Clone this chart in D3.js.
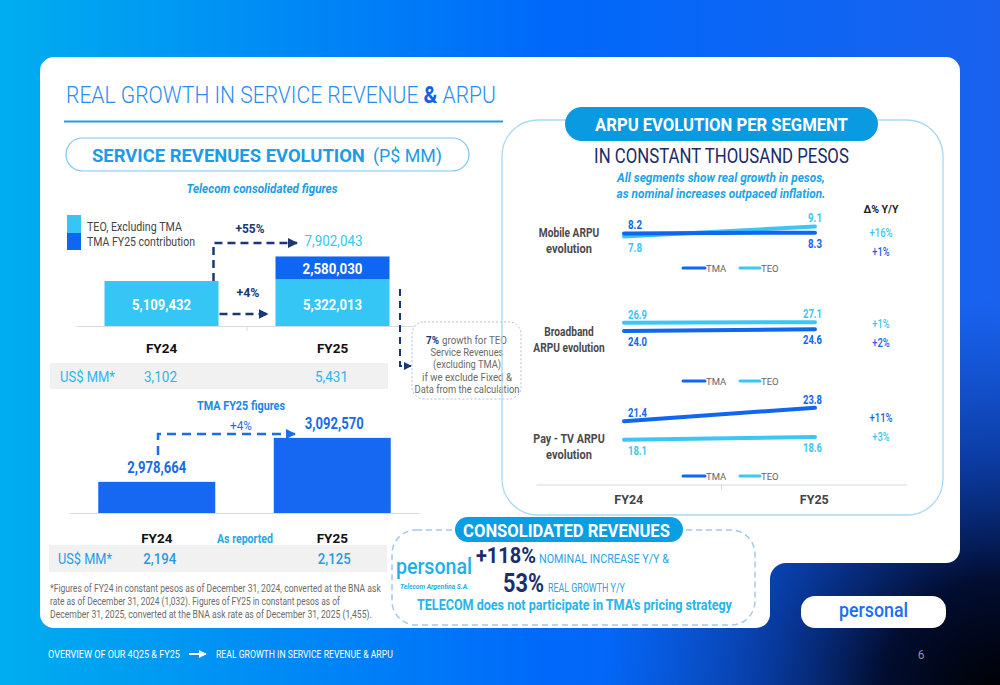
<!DOCTYPE html>
<html>
<head>
<meta charset="utf-8">
<script src="https://cdn.jsdelivr.net/npm/d3@7"></script>
<style>
  html, body { margin: 0; padding: 0; background: #0a6cf0; }
  svg { display: block; }
</style>
</head>
<body>
<svg id="chart" width="1000" height="685"></svg>
<script>
// ---- data ----
const years = ["FY24", "FY25"];
const teoExclTma = [5109432, 5322013];
const tmaContribution = [0, 2580030];
const consolidatedTotal = [5109432, 7902043];
const usdConsolidated = [3102, 5431];
const tmaRevenue = [2978664, 3092570];
const usdTma = [2194, 2125];
const consolidatedGrowth = "+55%";
const teoGrowth = "+4%";
const tmaGrowth = "+4%";

const arpuSegments = [["Mobile ARPU", "evolution"], ["Broadband", "ARPU evolution"], ["Pay - TV ARPU", "evolution"]];
const arpuTma = [[8.2, 8.3], [24.0, 24.6], [21.4, 23.8]];
const arpuTeo = [[7.8, 9.1], [26.9, 27.1], [18.1, 18.6]];
const yoyTma = ["+1%", "+2%", "+11%"];
const yoyTeo = ["+16%", "+1%", "+3%"];

const fmt = d3.format(",");
const LIGHT = "#35c6f6", DARK = "#0f66f2", NAVY = "#1b3876", SKY = "#1c9ce6";

const svg = d3.select("#chart");
const defs = svg.append("defs");

// background gradients
const lg = defs.append("linearGradient").attr("id", "bg").attr("x1", 0).attr("x2", 1).attr("y1", 0).attr("y2", 0);
lg.append("stop").attr("offset", 0).attr("stop-color", "#00aeef");
lg.append("stop").attr("offset", 0.55).attr("stop-color", "#0068fa");
lg.append("stop").attr("offset", 1).attr("stop-color", "#1a62ee");
const rg = defs.append("radialGradient").attr("id", "dark").attr("gradientUnits", "userSpaceOnUse")
  .attr("cx", 1000).attr("cy", 700).attr("r", 400);
rg.append("stop").attr("offset", 0).attr("stop-color", "#000").attr("stop-opacity", 1);
rg.append("stop").attr("offset", 0.3).attr("stop-color", "#010a2a").attr("stop-opacity", 0.97);
rg.append("stop").attr("offset", 0.6).attr("stop-color", "#062a80").attr("stop-opacity", 0.7);
rg.append("stop").attr("offset", 1).attr("stop-color", "#0a3aa0").attr("stop-opacity", 0);

function arrowMarker(id, color) {
  defs.append("marker").attr("id", id).attr("viewBox", "0 0 10 10").attr("refX", 9).attr("refY", 5)
    .attr("markerWidth", 4).attr("markerHeight", 4).attr("orient", "auto")
    .append("path").attr("d", "M0,0L10,5L0,10Z").attr("fill", color);
}
arrowMarker("arrNavy", NAVY);
arrowMarker("arrBlue", "#1a6ee8");
arrowMarker("arrWhite", "#fff");

svg.append("rect").attr("width", 1000).attr("height", 685).attr("fill", "url(#bg)");
svg.append("rect").attr("width", 1000).attr("height", 685).attr("fill", "url(#dark)");

// white card with cut-out bottom right
svg.append("path")
  .attr("d", "M54,57H946A14,14 0 0 1 960,71V549A14,14 0 0 1 946,563H786A16,16 0 0 0 770,579V614A14,14 0 0 1 756,628H54A14,14 0 0 1 40,614V71A14,14 0 0 1 54,57Z")
  .attr("fill", "#fff");

// text helper: natural glyphs, squeezed horizontally to the width seen in the slide
function label(parent, x, y, str, o = {}) {
  const t = parent.append("text").text(str)
    .attr("font-family", o.family || "Roboto, sans-serif")
    .attr("font-size", o.size || 12)
    .attr("font-weight", o.weight || 400)
    .attr("font-style", o.italic ? "italic" : null)
    .attr("fill", o.fill || "#333")
    .attr("text-anchor", o.anchor || "start");
  let s = 1;
  if (o.len) {
    const w = t.node().getComputedTextLength();
    if (w > 0) s = o.len / w;
  }
  t.attr("transform", `translate(${x},${y}) scale(${s},1)`);
  return t;
}

// ---- title ----
const title = svg.append("text").attr("font-family", "Roboto, sans-serif").attr("font-size", 24);
title.append("tspan").attr("font-weight", 300).attr("fill", "#2a8cf0").text("REAL GROWTH IN SERVICE REVENUE ");
title.append("tspan").attr("font-weight", 700).attr("fill", "#1560e6").text("&");
title.append("tspan").attr("font-weight", 300).attr("fill", "#2a8cf0").text(" ARPU");
title.attr("transform", `translate(66,103) scale(${430 / title.node().getComputedTextLength()},1)`);
svg.append("line").attr("x1", 64).attr("x2", 503).attr("y1", 121.5).attr("y2", 121.5)
  .attr("stroke", "#1f9de6").attr("stroke-width", 2);

svg.append("rect").attr("x", 66).attr("y", 138).attr("width", 403).attr("height", 33).attr("rx", 16.5)
  .attr("fill", "none").attr("stroke", "#7cc6f0").attr("stroke-width", 1.2);
label(svg, 92, 162, "SERVICE REVENUES EVOLUTION", {size: 19, weight: 700, fill: SKY, len: 273});
label(svg, 373, 162, "(P$ MM)", {size: 19, weight: 400, fill: SKY, len: 69});
label(svg, 262, 193, "Telecom consolidated figures", {size: 13, weight: 700, italic: true, fill: SKY, anchor: "middle", len: 151});

// ---- top left: consolidated service revenues ----
const xTop = d3.scaleBand().domain(years).range([76, 418]);
const yTop = d3.scaleLinear().domain([0, 8000000]).range([326, 255.6]);
const bwTop = xTop.bandwidth() * 2 / 3;
const gTop = svg.append("g");

gTop.selectAll(".teo").data(years).join("rect")
  .attr("x", d => xTop(d) + (xTop.bandwidth() - bwTop) / 2)
  .attr("width", bwTop)
  .attr("y", (d, i) => yTop(teoExclTma[i]))
  .attr("height", (d, i) => yTop(0) - yTop(teoExclTma[i]))
  .attr("fill", LIGHT);
gTop.selectAll(".tma").data(years).join("rect")
  .attr("x", d => xTop(d) + (xTop.bandwidth() - bwTop) / 2)
  .attr("width", bwTop)
  .attr("y", (d, i) => yTop(teoExclTma[i] + tmaContribution[i]))
  .attr("height", (d, i) => yTop(teoExclTma[i]) - yTop(teoExclTma[i] + tmaContribution[i]))
  .attr("fill", DARK);

const axTop = gTop.append("g").attr("transform", "translate(0,326)")
  .call(d3.axisBottom(xTop).tickSize(0).tickPadding(17));
axTop.select(".domain").attr("stroke", "#d3dbe6");
axTop.selectAll("text").attr("font-family", "Roboto, sans-serif").attr("font-size", 13.5)
  .attr("font-weight", 700).attr("fill", "#111");
gTop.append("line").attr("x1", xTop("FY25")).attr("x2", xTop("FY25")).attr("y1", 326).attr("y2", 331).attr("stroke", "#d3dbe6");

years.forEach((yr, i) => {
  const cx = xTop(yr) + xTop.bandwidth() / 2;
  label(gTop, cx, 310, fmt(teoExclTma[i]), {size: 15.5, weight: 700, fill: "#fff", anchor: "middle", len: 59});
  if (tmaContribution[i] > 0) {
    label(gTop, cx, 274, fmt(tmaContribution[i]), {size: 15.5, weight: 700, fill: "#fff", anchor: "middle", len: 60});
    label(gTop, cx + 1, 246, fmt(consolidatedTotal[i]), {size: 15.5, weight: 400, fill: LIGHT, anchor: "middle", len: 58});
  }
});

// legend
svg.append("rect").attr("x", 67).attr("y", 215).attr("width", 14).attr("height", 18).attr("fill", LIGHT);
svg.append("rect").attr("x", 67).attr("y", 233).attr("width", 14).attr("height", 17).attr("fill", DARK);
label(svg, 87, 231, "TEO, Excluding TMA", {size: 12.5, fill: "#444", len: 95});
label(svg, 87, 246, "TMA FY25 contribution", {size: 12.5, fill: "#444", len: 108});

// growth arrows
const fy24TopRight = xTop("FY24") + (xTop.bandwidth() + bwTop) / 2;
const fy25TopLeft = xTop("FY25") + (xTop.bandwidth() - bwTop) / 2;
gTop.append("path")
  .attr("d", `M${fy24TopRight - 5},${yTop(teoExclTma[0])}V243H297`)
  .attr("fill", "none").attr("stroke", NAVY).attr("stroke-width", 2.5).attr("stroke-dasharray", "8,5")
  .attr("marker-end", "url(#arrNavy)");
gTop.append("path")
  .attr("d", `M${fy24TopRight + 1},314H${fy25TopLeft - 8}`)
  .attr("fill", "none").attr("stroke", NAVY).attr("stroke-width", 2.5).attr("stroke-dasharray", "8,5")
  .attr("marker-end", "url(#arrNavy)");
label(gTop, 250, 233, consolidatedGrowth, {size: 13, weight: 700, fill: NAVY, anchor: "middle", len: 29});
label(gTop, 248, 297, teoGrowth, {size: 13, weight: 700, fill: NAVY, anchor: "middle", len: 23});

gTop.append("path").attr("d", "M400,289V366H411")
  .attr("fill", "none").attr("stroke", NAVY).attr("stroke-width", 2).attr("stroke-dasharray", "7,5")
  .attr("marker-end", "url(#arrNavy)");

// US$ row
svg.append("rect").attr("x", 50).attr("y", 363).attr("width", 338).attr("height", 26).attr("fill", "#f1f1f2");
label(svg, 60, 382, "US$ MM*", {size: 15, fill: "#2bb5ee", len: 55});
years.forEach((yr, i) => {
  label(svg, xTop(yr) + xTop.bandwidth() / 2 - 1, 382, fmt(usdConsolidated[i]), {size: 15, fill: "#2bb5ee", anchor: "middle", len: 33});
});

// note box
svg.append("rect").attr("x", 412).attr("y", 322).attr("width", 109).attr("height", 77).attr("rx", 12)
  .attr("fill", "#fff").attr("stroke", "#aebfd8").attr("stroke-width", 1).attr("stroke-dasharray", "2,2");
label(svg, 426, 344, "7%", {size: 10, weight: 700, fill: NAVY, len: 13});
label(svg, 442, 344, "growth for TEO", {size: 10, fill: "#6a6a6a", len: 65});
[["Service Revenues", 356, 73], ["(excluding TMA)", 368, 68], ["if we exclude Fixed &", 380.5, 90], ["Data from the calculation", 393, 105]]
  .forEach(([s, y, l]) => label(svg, 467, y, s, {size: 10, fill: "#6a6a6a", anchor: "middle", len: l}));

// ---- bottom left: TMA ----
const xBot = d3.scaleBand().domain(years).range([69, 420]);
const yBot = d3.scaleLinear().domain([2898000, 3100000]).range([513, 435]);
const bwBot = xBot.bandwidth() * 2 / 3;
const gBot = svg.append("g");
label(gBot, 241, 410, "TMA FY25 figures", {size: 13.5, weight: 700, fill: "#1a86ea", anchor: "middle", len: 88});
gBot.selectAll("rect.bar").data(years).join("rect")
  .attr("x", d => xBot(d) + (xBot.bandwidth() - bwBot) / 2)
  .attr("width", bwBot)
  .attr("y", (d, i) => yBot(tmaRevenue[i]))
  .attr("height", (d, i) => yBot.range()[0] - yBot(tmaRevenue[i]))
  .attr("fill", "#1668f2");
const axBot = gBot.append("g").attr("transform", "translate(0,513)")
  .call(d3.axisBottom(xBot).tickSize(0).tickPadding(20));
axBot.select(".domain").attr("stroke", "#d3dbe6");
axBot.selectAll("text").attr("font-family", "Roboto, sans-serif").attr("font-size", 13.5)
  .attr("font-weight", 700).attr("fill", "#111");
label(gBot, 245, 543, "As reported", {size: 13.5, weight: 700, fill: "#22a6ea", anchor: "middle", len: 56});

years.forEach((yr, i) => {
  const cx = xBot(yr) + xBot.bandwidth() / 2;
  label(gBot, cx + (i ? 2 : 0), yBot(tmaRevenue[i]) - 9, fmt(tmaRevenue[i]), {size: 16, weight: 700, fill: "#1a6ae8", anchor: "middle", len: 59});
});
gBot.append("path").attr("d", "M158,455V434H295")
  .attr("fill", "none").attr("stroke", "#1a6ee8").attr("stroke-width", 2.5).attr("stroke-dasharray", "9,6")
  .attr("marker-end", "url(#arrBlue)");
label(gBot, 241, 430, tmaGrowth, {size: 13, fill: "#1a6ee8", anchor: "middle", len: 22});

svg.append("rect").attr("x", 49).attr("y", 545).attr("width", 338).attr("height", 27).attr("fill", "#f1f1f2");
label(svg, 58, 564, "US$ MM*", {size: 15, fill: "#1f9ce6", len: 54});
years.forEach((yr, i) => {
  label(svg, xBot(yr) + xBot.bandwidth() / 2 + (i ? 2 : 3), 564, fmt(usdTma[i]), {size: 15, weight: 500, fill: "#1f9ce6", anchor: "middle", len: 33});
});

["*Figures of FY24 in constant pesos as of December 31, 2024, converted at the BNA ask",
 "rate as of December 31, 2024 (1,032).  Figures of FY25 in constant pesos as of",
 "December 31, 2025, converted at the BNA ask rate as of December 31, 2025 (1,455)."]
  .forEach((s, i) => label(svg, 50, 592 + i * 13, s, {size: 10.5, fill: "#6b6b6b", len: [331, 290, 322][i]}));

// ---- right panel: ARPU ----
svg.append("rect").attr("x", 502).attr("y", 120).attr("width", 441).attr("height", 395).attr("rx", 36)
  .attr("fill", "none").attr("stroke", "#a9d8f4").attr("stroke-width", 1.3);
svg.append("rect").attr("x", 565).attr("y", 107).attr("width", 313).attr("height", 34).attr("rx", 17).attr("fill", "#0a9ae2");
label(svg, 721.5, 131, "ARPU EVOLUTION PER SEGMENT", {size: 18.5, weight: 700, fill: "#fff", anchor: "middle", len: 253});
label(svg, 721.5, 163, "IN CONSTANT THOUSAND PESOS", {size: 20, fill: "#1b2c66", anchor: "middle", len: 255});
label(svg, 721, 182, "All segments show real growth in pesos,", {size: 13, weight: 700, italic: true, fill: "#1ba4e6", anchor: "middle", len: 208});
label(svg, 721, 198, "as nominal increases outpaced inflation.", {size: 13, weight: 700, italic: true, fill: "#1ba4e6", anchor: "middle", len: 209});
label(svg, 881, 213, "Δ% Y/Y", {size: 11.5, weight: 700, fill: "#222", anchor: "middle", len: 35});

const xAx = d3.scaleBand().domain(years).range([536, 907]);
const xLine = d3.scalePoint().domain(years).range([624, 815]);
const axR = svg.append("g").attr("transform", "translate(0,484.5)")
  .call(d3.axisBottom(xAx).tickSize(0).tickPadding(11));
axR.select(".domain").attr("stroke", "#d3dbe6");
axR.selectAll("text").attr("font-family", "Roboto, sans-serif").attr("font-size", 12.5)
  .attr("font-weight", 700).attr("fill", "#444");
svg.append("line").attr("x1", xAx("FY25")).attr("x2", xAx("FY25")).attr("y1", 484.5).attr("y2", 490).attr("stroke", "#d3dbe6");

// per-panel layout: vertical anchor, pixels per thousand pesos, label rows
const panelBottom = [236.5, 331, 439.7];
const panelK = [7.7, 2.86, 5.6];
const pctTop = [237, 328, 422];
const segLabelY = [237, 336, 443];
const legendY = [268, 381, 476];
const line = d3.line();

arpuSegments.forEach((seg, p) => {
  const all = arpuTma[p].concat(arpuTeo[p]);
  const lo = d3.min(all), hi = d3.max(all);
  const y = d3.scaleLinear().domain([lo, hi]).range([panelBottom[p], panelBottom[p] - (hi - lo) * panelK[p]]);
  const g = svg.append("g");

  label(g, 569, segLabelY[p], seg[0], {size: 13, weight: 700, fill: "#4a4a4a", anchor: "middle", len: seg[0].length * 5.5});
  label(g, 569, segLabelY[p] + 15.5, seg[1], {size: 13, weight: 700, fill: "#4a4a4a", anchor: "middle", len: seg[1].length * 5.1});

  const series = [{v: arpuTeo[p], c: "#3cc6f5", yoy: yoyTeo[p]}, {v: arpuTma[p], c: DARK, yoy: yoyTma[p]}];
  series.forEach(s => {
    g.append("path").attr("d", line(years.map((yr, i) => [xLine(yr), y(s.v[i])])))
      .attr("stroke", s.c).attr("stroke-width", 4).attr("stroke-linecap", "round").attr("fill", "none");
  });
  series.forEach((s, si) => {
    const other = series[1 - si];
    years.forEach((yr, i) => {
      const above = s.v[i] >= other.v[i];
      const yy = above ? y(s.v[i]) - 4 : y(s.v[i]) + 15;
      const x = i === 0 ? xLine(yr) + 4 : xLine(yr) + 7;
      label(g, x, yy, d3.format(".1f")(s.v[i]), {size: 12.5, weight: 700, fill: s.c, anchor: i === 0 ? "start" : "end", len: 14 + (s.v[i] >= 10 ? 5 : 0)});
    });
    const higher = d3.mean(s.v) > d3.mean(other.v);
    label(g, 881, higher ? pctTop[p] : pctTop[p] + 19, s.yoy, {size: 12, weight: 500, fill: s.c === DARK ? "#1a5fe0" : "#3cc6f5", anchor: "middle", len: s.yoy.length * 5.8});
  });

  // legend
  const ly = legendY[p];
  g.append("line").attr("x1", 683).attr("x2", 705).attr("y1", ly).attr("y2", ly).attr("stroke", DARK).attr("stroke-width", 3).attr("stroke-linecap", "round");
  label(g, 706, ly + 3.5, "TMA", {size: 9.5, fill: "#666"});
  g.append("line").attr("x1", 740).attr("x2", 760).attr("y1", ly).attr("y2", ly).attr("stroke", "#3cc6f5").attr("stroke-width", 3).attr("stroke-linecap", "round");
  label(g, 761, ly + 3.5, "TEO", {size: 9.5, fill: "#666"});
});

// ---- consolidated revenues box ----
svg.append("rect").attr("x", 392).attr("y", 530).attr("width", 363).attr("height", 95).attr("rx", 24)
  .attr("fill", "#fff").attr("stroke", "#a3c8ee").attr("stroke-width", 1.5).attr("stroke-dasharray", "6,4");
svg.append("rect").attr("x", 455).attr("y", 517).attr("width", 228).attr("height", 25).attr("rx", 12.5).attr("fill", "#0a9ee3");
label(svg, 566.5, 537, "CONSOLIDATED REVENUES", {size: 18.5, weight: 700, fill: "#fff", anchor: "middle", len: 207});
label(svg, 396, 574, "personal", {size: 22, weight: 500, fill: "#20b0e8", len: 76});
label(svg, 400, 589, "Telecom Argentina S.A.", {size: 6.5, weight: 700, italic: true, fill: "#20b0e8", len: 69});
label(svg, 476, 563, "+118%", {size: 22, weight: 700, fill: "#1c2d6b", len: 60});
label(svg, 539, 563, "NOMINAL INCREASE Y/Y &", {size: 12.5, fill: "#2aa2e6", len: 130});
label(svg, 503, 592, "53%", {size: 26, weight: 700, fill: "#1c2d6b", len: 41});
label(svg, 548, 592, "REAL GROWTH Y/Y", {size: 12.5, fill: "#2aa2e6", len: 77});
label(svg, 417, 610, "TELECOM does not participate in TMA's pricing strategy", {size: 15, weight: 700, fill: "#26b4ec", len: 315});

// personal pill
svg.append("rect").attr("x", 801).attr("y", 596).attr("width", 145).attr("height", 32).attr("rx", 14).attr("fill", "#fff");
label(svg, 873.5, 617, "personal", {size: 20, weight: 500, fill: "#1a6ef5", anchor: "middle", len: 69});

// footer
label(svg, 48, 658, "OVERVIEW OF OUR 4Q25 & FY25", {size: 10, fill: "#fff", len: 132});
svg.append("line").attr("x1", 189).attr("x2", 206).attr("y1", 654).attr("y2", 654)
  .attr("stroke", "#fff").attr("stroke-width", 2).attr("marker-end", "url(#arrWhite)");
label(svg, 216, 658, "REAL GROWTH IN SERVICE REVENUE & ARPU", {size: 10, fill: "#fff", len: 177});
label(svg, 921, 659, "6", {size: 12, fill: "#8a93a6", anchor: "middle"});
</script>
</body>
</html>
